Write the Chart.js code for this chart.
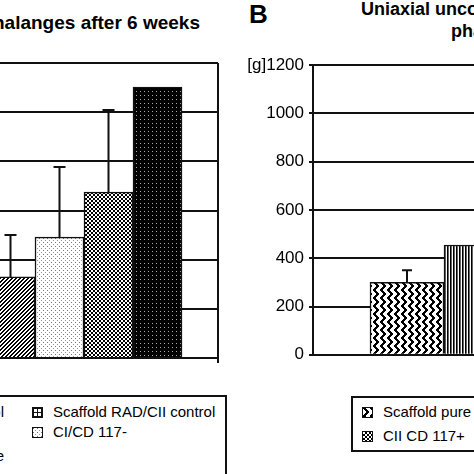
<!DOCTYPE html>
<html>
<head>
<meta charset="utf-8">
<script src="https://cdn.jsdelivr.net/npm/chart.js@4.4.0/dist/chart.umd.min.js"></script>
<style>
  html, body { margin:0; padding:0; background:#fff; }
  body { position:relative; width:474px; height:474px; overflow:hidden; font-family:"Liberation Sans", Arial, sans-serif; color:#000; }
  canvas { position:absolute; }
  .title { position:absolute; font-weight:bold; font-size:18px; white-space:nowrap; }
  .panel { position:absolute; font-weight:bold; font-size:26px; }
  .lbox { position:absolute; border:2px solid #111; box-sizing:border-box; background:#fff; }
  .item { position:absolute; font-size:15px; white-space:nowrap; line-height:18px; }
  .sw { display:inline-block; width:11px; height:11px; border:1px solid #111; box-sizing:border-box; vertical-align:-1px; margin-right:10px; }
</style>
</head>
<body>
<canvas id="chartA" width="339" height="320" style="left:-109px;top:50px"></canvas>
<canvas id="chartB" width="500" height="320" style="left:240px;top:50px"></canvas>

<div class="title" style="right:274px;top:12px;font-size:19px">Uniaxial compression of phalanges after 6 weeks</div>
<div class="panel" style="left:249px;top:-1px">B</div>
<div class="title" style="left:361px;top:-1px">Uniaxial unconfined compression of</div>
<div class="title" style="left:451px;top:21px">phalanges after 6 weeks</div>

<div class="lbox" style="left:-300px;top:395px;width:527px;height:120px"></div>
<div class="lbox" style="left:351px;top:396px;width:200px;height:56px"></div>
<div id="legendA"></div>
<div id="legendB"></div>

<script>
// y axis (both panels), grams
const yTicks = [0, 200, 400, 600, 800, 1000, 1200];

// panel A - phalanges after 6 weeks (first bar is outside the crop)
const aSeries   = ["Scaffold RAD/CII control", "Scaffold RAD control", "CI/CD 117-", "CII CD 117+", "Scaffold RAD/CI pure"];
const aMeans    = [410, 330, 492, 675, 1102];
const aErrTop   = [560, 500, 777, 1009, null];
const aPatterns = ["grid", "diag", "lightdots", "checker", "blackdots"];

// panel B
const bSeries   = ["Scaffold pure", "Scaffold RAD/CII", "CII CD 117+", "CII CD 117-"];
const bMeans    = [300, 455, 610, 520];
const bErrTop   = [350, 520, 700, 600];
const bPatterns = ["wave", "vlines", "checker", "diag"];

function tile(type) {
  const c = document.createElement("canvas");
  let w = 4, h = 4;
  if (type === "wave") { w = 7; h = 8; }
  if (type === "vlines") { w = 3; h = 1; }
  c.width = w; c.height = h;
  const g = c.getContext("2d");
  const px = (x, y, col) => { g.fillStyle = col; g.fillRect(x, y, 1, 1); };
  g.fillStyle = "#fff"; g.fillRect(0, 0, w, h);
  for (let y = 0; y < h; y++) for (let x = 0; x < w; x++) {
    if (type === "grid" && (x === 0 || y === 0)) px(x, y, "#111");
    if (type === "diag" && (x + y) % 4 < 2) px(x, y, "#000");
    if (type === "checker" && ((x >> 1) + (y >> 1)) % 2) px(x, y, "#000");
    if (type === "blackdots") px(x, y, (x === 1 && y === 1) ? "#aaa" : "#000");
    if (type === "vlines" && x === 0) px(x, y, "#000");
    if (type === "vlines" && x === 1) px(x, y, "#666");
  }
  if (type === "lightdots") { px(0, 0, "#777"); px(2, 2, "#999"); }
  if (type === "wave") {
    // s-shaped vertical strokes
    const off = [0, 1, 2, 2, 1, 0, 0, 0];
    const shift = [0, 0, 0, 1, 2, 2, 1, 0];
    for (let y = 0; y < 8; y++) for (let k = 0; k < 3; k++) px((off[y] + shift[y] + k) % 7, y, "#000");
  }
  return c;
}
const tiles = {};
function pattern(ctx, type) {
  if (!tiles[type]) tiles[type] = tile(type);
  return ctx.createPattern(tiles[type], "repeat");
}

const errorBars = {
  id: "errorBars",
  afterDatasetsDraw(chart, args, opts) {
    const ctx = chart.ctx, ys = chart.scales.y;
    chart.data.datasets.forEach((ds, i) => {
      if (ds.errTop == null) return;
      const bar = chart.getDatasetMeta(i).data[0];
      const top = ys.getPixelForValue(ds.errTop);
      ctx.save();
      ctx.strokeStyle = "#111"; ctx.lineWidth = 2;
      ctx.beginPath();
      ctx.moveTo(bar.x, bar.y); ctx.lineTo(bar.x, top);
      ctx.moveTo(bar.x - opts.cap, top); ctx.lineTo(bar.x + opts.cap, top);
      ctx.stroke();
      ctx.restore();
    });
  }
};

function makeSets(ctx, names, means, errs, pats) {
  return names.map((n, i) => ({
    label: n, data: [means[i]], errTop: errs[i],
    backgroundColor: pattern(ctx, pats[i]), borderColor: "#111", borderWidth: 1.5
  }));
}

const baseOpts = {
  responsive: false, animation: false,
  plugins: { legend: { display: false }, tooltip: { enabled: false } }
};

// ---- panel A
const ctxA = document.getElementById("chartA").getContext("2d");
new Chart(ctxA, {
  type: "bar",
  data: { labels: [""], datasets: makeSets(ctxA, aSeries, aMeans, aErrTop, aPatterns) },
  options: {
    ...baseOpts,
    layout: { padding: { left: 10, right: 12, top: 13, bottom: 0 } },
    datasets: { bar: { barThickness: 49 } },
    plugins: { ...baseOpts.plugins, errorBars: { cap: 6 } },
    scales: {
      x: {
        grid: { offset: true, color: "#111", lineWidth: 2, tickLength: 5 },
        border: { color: "#111", width: 2 },
        ticks: { display: false },
        afterFit: s => { s.height = 12; }
      },
      y: {
        min: 0, max: 1200,
        afterBuildTicks: s => { s.ticks = yTicks.map(v => ({ value: v })); },
        grid: { color: "#111", lineWidth: 2, drawTicks: false },
        border: { display: false },
        ticks: { display: false },
        afterFit: s => { s.width = 0; }
      }
    }
  },
  plugins: [errorBars]
});

// ---- panel B
const ctxB = document.getElementById("chartB").getContext("2d");
new Chart(ctxB, {
  type: "bar",
  data: { labels: [""], datasets: makeSets(ctxB, bSeries, bMeans, bErrTop, bPatterns) },
  options: {
    ...baseOpts,
    layout: { padding: { left: 0, right: 17, top: 11, bottom: 0 } },
    datasets: { bar: { barThickness: 74 } },
    plugins: { ...baseOpts.plugins, errorBars: { cap: 5 } },
    scales: {
      x: {
        grid: { display: false },
        border: { color: "#111", width: 2 },
        ticks: { display: false },
        afterFit: s => { s.height = 12; }
      },
      y: {
        min: 0, max: 1200,
        afterBuildTicks: s => { s.ticks = yTicks.map(v => ({ value: v })); },
        grid: { color: "#111", lineWidth: 2, tickLength: 4 },
        border: { color: "#111", width: 2 },
        ticks: {
          color: "#000", padding: 5,
          font: { family: "'Liberation Sans', Arial, sans-serif", size: 17 },
          callback: v => v === 1200 ? "[g]1200" : String(v)
        },
        afterFit: s => { s.width = 73; }
      }
    }
  },
  plugins: [errorBars]
});

// legends (html, swatches from the same tiles)
function item(parent, name, type, style) {
  const d = document.createElement("div");
  d.className = "item"; d.setAttribute("style", style);
  const sw = document.createElement("span");
  sw.className = "sw";
  sw.style.backgroundImage = `url(${tiles[type].toDataURL()})`;
  d.appendChild(sw);
  d.appendChild(document.createTextNode(name));
  document.getElementById(parent).appendChild(d);
}
item("legendA", aSeries[1], aPatterns[1], "right:470px;top:403px");
item("legendA", aSeries[3], aPatterns[3], "right:482px;top:425px");
item("legendA", aSeries[4], aPatterns[4], "right:470px;top:447px");
item("legendA", aSeries[0], aPatterns[0], "left:32px;top:403px");
item("legendA", aSeries[2], aPatterns[2], "left:32px;top:423px");
item("legendB", bSeries[0], bPatterns[0], "left:362px;top:403px");
item("legendB", bSeries[2], bPatterns[2], "left:362px;top:427px");
item("legendB", bSeries[1], bPatterns[1], "left:490px;top:403px");
item("legendB", bSeries[3], bPatterns[3], "left:490px;top:427px");
</script>
</body>
</html>
